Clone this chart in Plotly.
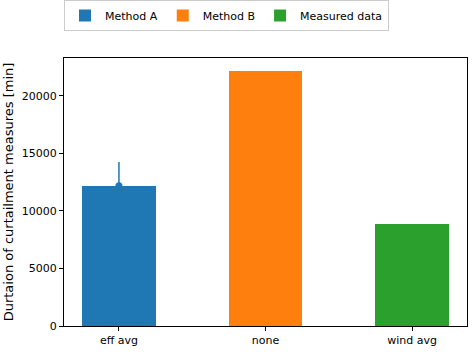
import plotly.graph_objects as go

categories = ["eff avg", "none", "wind avg"]
series_names = ["Method A", "Method B", "Measured data"]
values = [12200, 22170, 8870]
colors = ["#1f77b4", "#ff7f0e", "#2ca02c"]
err_point = 12200
err_upper = 2060

fig = go.Figure()
for cat, name, v, c in zip(categories, series_names, values, colors):
    fig.add_trace(go.Bar(x=[cat], y=[v], name=name, marker_color=c, width=0.5,
                         marker_line_width=0))
fig.add_trace(go.Scatter(x=[categories[0]], y=[err_point], mode="markers",
                         marker=dict(color=colors[0], size=7),
                         error_y=dict(type="data", array=[err_upper], arrayminus=[0],
                                      color=colors[0], thickness=1.5, width=0),
                         showlegend=False))

fig.update_layout(
    width=474, height=353,
    margin=dict(l=64, r=7, t=58, b=27),
    paper_bgcolor="white", plot_bgcolor="white",
    font=dict(family="DejaVu Sans", size=11, color="black"),
    bargap=0,
    legend=dict(orientation="h", x=0.0, xanchor="left", y=1.0, yanchor="top",
                xref="paper", yref="container",
                bordercolor="#cccccc", borderwidth=1, font=dict(size=11),
                itemwidth=30),
    xaxis=dict(type="category", range=[-0.375, 2.375], showline=True, linecolor="black",
               linewidth=1, mirror=True, ticks="outside", ticklen=4, tickcolor="black",
               showgrid=False),
    yaxis=dict(range=[0, 23300], showline=True, linecolor="black", linewidth=1, mirror=True,
               ticks="outside", ticklen=4, tickcolor="black", showgrid=False,
               tickvals=[0, 5000, 10000, 15000, 20000], tickformat="d", zeroline=False,
               title=dict(text="Durtaion of curtailment measures [min]", font=dict(size=13),
                          standoff=5)),
)
fig.write_html("out.html")
